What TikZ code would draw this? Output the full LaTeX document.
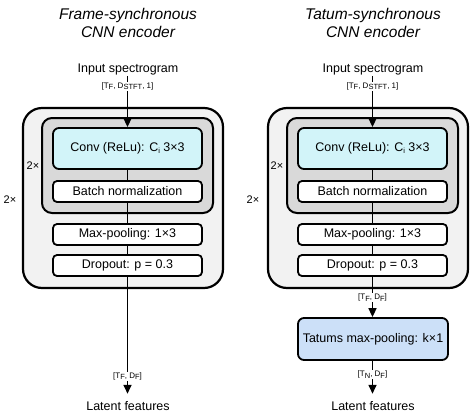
\documentclass[tikz,border=0pt]{standalone}
\usepackage{fontspec}
\setmainfont{Liberation Sans}
\usetikzlibrary{arrows.meta}
\definecolor{outerfill}{HTML}{F2F2F2}
\definecolor{innerfill}{HTML}{D9D9D9}
\definecolor{convfill}{HTML}{D2F4F9}
\definecolor{tatfill}{HTML}{CCE0F8}
\newcommand{\sbx}[1]{\raisebox{-0.3ex}{\fontsize{7.5}{8}\selectfont #1}}
\begin{document}
\begin{tikzpicture}[x=1pt,y=-1pt,
  outerbox/.style={draw, line width=2.2pt, fill=outerfill, rounded corners=19pt, minimum width=200, minimum height=180},
  innerbox/.style={draw, line width=2pt, fill=innerfill, rounded corners=10pt, minimum width=171, minimum height=95},
  layerbox/.style={draw, line width=1.8pt, fill=white, rounded corners=4pt, minimum width=149, minimum height=21, inner sep=0pt, font=\fontsize{12.5}{14}\selectfont},
  title/.style={font=\fontsize{15.5}{18}\selectfont\itshape, align=center},
  io/.style={font=\fontsize{12.5}{14}\selectfont, inner sep=1pt},
  rep/.style={font=\fontsize{11}{12}\selectfont},
  dim/.style={font=\fontsize{8}{9}\selectfont, fill=white, inner sep=0.8pt},
  link/.style={line width=1.6pt},
  arr/.style={line width=1.6pt, -{Triangle[length=9pt,width=8pt]}}
]
\useasboundingbox (0,0) rectangle (474,418);

% ---------- Left: frame-synchronous ----------
\node[title, anchor=base] (tL1) at (128,19) {Frame-synchronous};
\node[title, anchor=base] (tL2) at (128,37) {CNN encoder};
\node[io, anchor=base] (inL) at (128,72) {Input spectrogram};

\node[outerbox] (outL) at (123,198) {};
\node[innerbox] (innL) at (127.5,165.5) {};
\node[layerbox, fill=convfill, minimum height=41, rounded corners=6pt] (convL) at (127.5,148.5) {Conv (ReLu): C\sbx{i} 3×3};
\node[layerbox] (bnL) at (127.5,191.5) {Batch normalization};
\node[layerbox] (mpL) at (127.5,234.5) {Max-pooling: 1×3};
\node[layerbox] (doL) at (127.5,265.5) {Dropout: p = 0.3};
\node[rep] (r1L) at (33,166) {2×};
\node[rep] (r2L) at (10,200) {2×};

\node[io, anchor=base] (latL) at (128,410) {Latent features};

\draw[arr] (inL.south -| convL.north) -- (convL.north)
  node[dim, pos=0.21] {[T\sbx{F}, D\sbx{STFT}, 1]};
\draw[link] (convL) -- (bnL);
\draw[link] (bnL) -- (mpL);
\draw[link] (mpL) -- (doL);
\draw[arr, shorten >=6pt] (doL.south) -- (doL.south |- latL.north)
  node[dim, pos=0.81] {[T\sbx{F}, D\sbx{F}]};

% ---------- Right: tatum-synchronous ----------
\node[title, anchor=base] (tR1) at (373,19) {Tatum-synchronous};
\node[title, anchor=base] (tR2) at (373,37) {CNN encoder};
\node[io, anchor=base] (inR) at (373,72) {Input spectrogram};

\node[outerbox] (outR) at (368,198) {};
\node[innerbox] (innR) at (372.5,165.5) {};
\node[layerbox, fill=convfill, minimum height=41, rounded corners=6pt] (convR) at (372.5,148.5) {Conv (ReLu): C\sbx{i} 3×3};
\node[layerbox] (bnR) at (372.5,191.5) {Batch normalization};
\node[layerbox] (mpR) at (372.5,234.5) {Max-pooling: 1×3};
\node[layerbox] (doR) at (372.5,265.5) {Dropout: p = 0.3};
\node[rep] (r1R) at (277,166) {2×};
\node[rep] (r2R) at (253,200) {2×};

\node[layerbox, fill=tatfill, minimum width=150, minimum height=42, rounded corners=6pt] (tatR) at (373,339) {Tatums max-pooling: k×1};
\node[io, anchor=base] (latR) at (373,410) {Latent features};

\draw[arr] (inR.south -| convR.north) -- (convR.north)
  node[dim, pos=0.21] {[T\sbx{F}, D\sbx{STFT}, 1]};
\draw[link] (convR) -- (bnR);
\draw[link] (bnR) -- (mpR);
\draw[link] (mpR) -- (doR);
\draw[arr] (doR.south) -- (doR.south |- tatR.north)
  node[dim, pos=0.52] {[T\sbx{F}, D\sbx{F}]};
\draw[arr, shorten >=6pt] (tatR.south -| doR.south) -- (doR.south |- latR.north)
  node[dim, pos=0.36] {[T\sbx{N}, D\sbx{F}]};
\end{tikzpicture}
\end{document}
